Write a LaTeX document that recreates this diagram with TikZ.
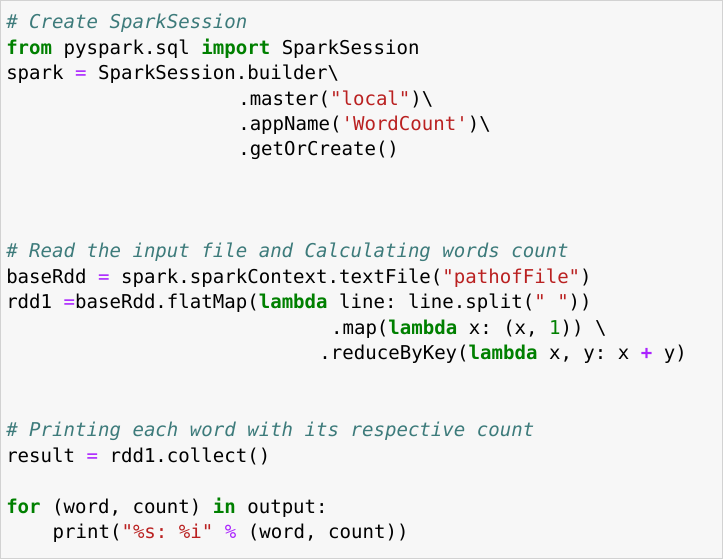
\documentclass[tikz,border=0pt]{standalone}
\usepackage{fontspec}
\setmonofont{DejaVu Sans Mono}
\definecolor{cmcol}{HTML}{3D7B7B}
\definecolor{kwcol}{HTML}{008000}
\definecolor{strcol}{HTML}{BA2121}
\definecolor{opcol}{HTML}{AA22FF}
\newcommand{\cm}[1]{\textcolor{cmcol}{\itshape #1}}
\newcommand{\kw}[1]{\textcolor{kwcol}{\bfseries #1}}
\newcommand{\str}[1]{\textcolor{strcol}{#1}}
\newcommand{\op}[1]{\textcolor{opcol}{#1}}
\newcommand{\nm}[1]{\textcolor{kwcol}{#1}}
\newcommand{\bs}{\textbackslash}
\newcommand{\codeline}[4]{
	\node[codetext] (#1) at (6+11.6*#2, 23+25.5*#3) {#4};
}

\begin{document}
\begin{tikzpicture}[x=0.75pt,y=-0.75pt,
	codetext/.style={anchor=west, inner sep=0pt, font=\ttfamily\fontsize{14.3pt}{16pt}\selectfont, text=black}]
	\useasboundingbox (0,0) rectangle (723,559);
	\fill[gray!6, draw=gray!35] (0.5,0.5) rectangle (722.5,558.5);

	% first block
	\codeline{l0}{0}{0}{\cm{\# Create SparkSession}}
	\codeline{l1}{0}{1}{\kw{from} pyspark.sql \kw{import} SparkSession}
	\codeline{l2}{0}{2}{spark \op{=} SparkSession.builder\bs}
	\codeline{l3}{20}{3}{.master(\str{"local"})\bs}
	\codeline{l4}{20}{4}{.appName(\str{'WordCount'})\bs}
	\codeline{l5}{20}{5}{.getOrCreate()}

	% second block
	\codeline{l9}{0}{9}{\cm{\# Read the input file and Calculating words count}}
	\codeline{l10}{0}{10}{baseRdd \op{=} spark.sparkContext.textFile(\str{"pathofFile"})}
	\codeline{l11}{0}{11}{rdd1 \op{=}baseRdd.flatMap(\kw{lambda} line: line.split(\str{" "}))}
	\codeline{l12}{28}{12}{.map(\kw{lambda} x: (x, \nm{1})) \bs}
	\codeline{l13}{27}{13}{.reduceByKey(\kw{lambda} x, y: x \op{\bfseries +} y)}

	% third block
	\codeline{l16}{0}{16}{\cm{\# Printing each word with its respective count}}
	\codeline{l17}{0}{17}{result \op{=} rdd1.collect()}
	\codeline{l19}{0}{19}{\kw{for} (word, count) \kw{in} output:}
	\codeline{l20}{4}{20}{print(\str{"\%s: \%i"} \op{\%} (word, count))}
\end{tikzpicture}
\end{document}
